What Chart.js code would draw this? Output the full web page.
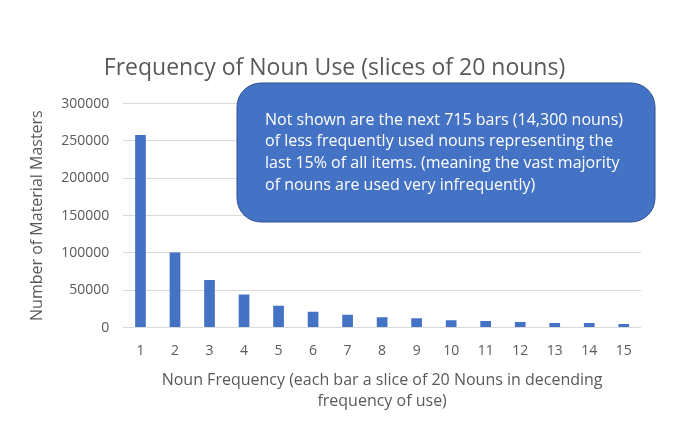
<!DOCTYPE html>
<html>
<head>
<meta charset="utf-8">
<script src="https://cdn.jsdelivr.net/npm/chart.js@4"></script>
<style>
  html, body { margin: 0; padding: 0; background: #ffffff; }
  #wrap { width: 680px; height: 421px; }
</style>
</head>
<body>
<div id="wrap"><canvas id="grafico"></canvas></div>
<script>
// DATOS:
const categorias = ["1", "2", "3", "4", "5", "6", "7", "8", "9", "10", "11", "12", "13", "14", "15"];
const valores = [258000, 100500, 63700, 44200, 29200, 21200, 17300, 13700, 12400, 9700, 8800, 7500, 6200, 6100, 4900];
const titulo = "Frequency of Noun Use (slices of 20 nouns)";
const tituloY = "Number of Material Masters";
const tituloX = ["Noun Frequency (each bar a slice of 20 Nouns in decending", "frequency of use)"];
const notaLineas = [
    "Not shown are the next 715 bars (14,300 nouns)",
    "of less frequently used nouns representing the",
    "last 15% of all items. (meaning the vast majority",
    "of nouns are used very infrequently)"
];

const fuente = "'Open Sans', 'Liberation Sans', sans-serif";
const gris = "#595959";

// plugin para la caja de texto
const cajaNota = {
    id: "cajaNota",
    afterDraw(chart) {
        const ctx = chart.ctx;
        const x = 237, y = 83, w = 418, h = 139, r = 24;
        ctx.save();
        ctx.beginPath();
        ctx.roundRect(x, y, w, h, r);
        ctx.fillStyle = "#4472C4";
        ctx.fill();
        ctx.lineWidth = 1;
        ctx.strokeStyle = "#2F528F";
        ctx.stroke();
        ctx.fillStyle = "#ffffff";
        ctx.font = "16px " + fuente;
        ctx.textBaseline = "middle";
        notaLineas.forEach((linea, i) => {
            ctx.fillText(linea, 265, 120 + i * 21.7);
        });
        ctx.restore();
    }
};

new Chart(document.getElementById("grafico"), {
    type: "bar",
    data: {
        labels: categorias,
        datasets: [{
            data: valores,
            backgroundColor: "#4472C4",
            categoryPercentage: 1,
            barPercentage: 0.31
        }]
    },
    options: {
        responsive: true,
        maintainAspectRatio: false,
        animation: false,
        layout: { padding: { top: 55, left: 28, right: 39, bottom: 5 } },
        plugins: {
            legend: { display: false },
            tooltip: { enabled: false },
            title: {
                display: true,
                text: titulo,
                color: gris,
                font: { family: fuente, size: 23, weight: "normal" },
                padding: { top: 0, bottom: 21 }
            }
        },
        scales: {
            x: {
                grid: { display: false },
                border: { display: false },
                ticks: { color: gris, font: { family: fuente, size: 14 }, padding: 7 },
                title: {
                    display: true,
                    text: tituloX,
                    color: gris,
                    font: { family: fuente, size: 16, lineHeight: 1.3 },
                    padding: { top: 4 }
                }
            },
            y: {
                min: 0,
                max: 300000,
                grid: { color: "#d9d9d9", drawTicks: false },
                border: { display: false },
                ticks: {
                    stepSize: 50000,
                    color: gris,
                    font: { family: fuente, size: 14 },
                    padding: 14,
                    callback: (v) => String(v)
                },
                title: {
                    display: true,
                    text: tituloY,
                    color: gris,
                    font: { family: fuente, size: 16 },
                    padding: { top: 0, bottom: 0 }
                }
            }
        }
    },
    plugins: [cajaNota]
});
</script>
</body>
</html>
